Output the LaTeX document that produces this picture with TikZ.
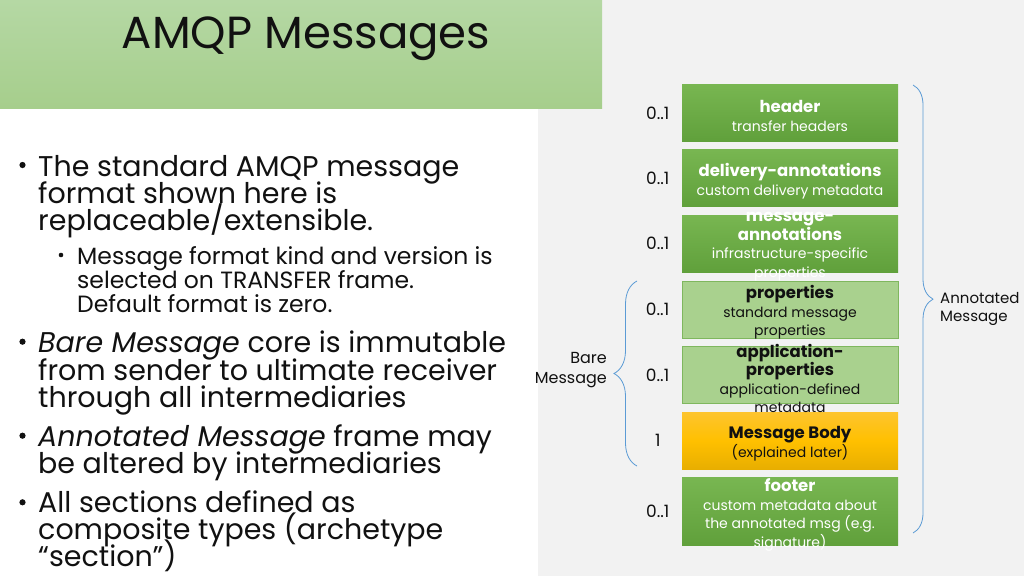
\documentclass[tikz,border=0pt]{standalone}
\usepackage{fontspec}
\setmainfont{Poppins}
\usetikzlibrary{positioning,decorations.pathreplacing}

\definecolor{panelgray}{HTML}{F2F2F2}
\definecolor{titletop}{HTML}{B5D8A4}
\definecolor{titlebot}{HTML}{A6CE8C}
\definecolor{darktop}{HTML}{78B651}
\definecolor{darkbot}{HTML}{60A03B}
\definecolor{lightfill}{HTML}{A9D18E}
\definecolor{lightedge}{HTML}{7FB75E}
\definecolor{goldtop}{HTML}{FDC42E}
\definecolor{goldmid}{HTML}{FFC000}
\definecolor{goldbot}{HTML}{E8AE00}
\definecolor{braceblue}{HTML}{5B9BD5}
\definecolor{ink}{HTML}{111111}

\newcommand{\tightlines}{\lineskiplimit=-30pt\relax}
\tikzset{
  secbox/.style={minimum width=216pt, minimum height=57pt, inner sep=0pt},
  darkbox/.style={secbox, top color=darktop, bottom color=darkbot},
  lightbox/.style={secbox, fill=lightfill, draw=lightedge, line width=0.8pt},
  goldbox/.style={secbox, top color=goldtop, bottom color=goldbot, middle color=goldmid},
  sectxt/.style={align=center, inner sep=0pt, yshift=-3pt, font=\fontsize{14}{18.5}\selectfont\tightlines},
  mult/.style={font=\fontsize{17}{18}\selectfont, text=ink},
  sidelbl/.style={text=ink, inner sep=0pt},
  bracelbl/.style={decorate, draw=braceblue, line width=0.8pt},
  bigtxt/.style={anchor=base west, align=left, inner sep=0pt, text=ink, font=\fontsize{28.5}{27.3}\selectfont\tightlines},
  smalltxt/.style={anchor=base west, align=left, inner sep=0pt, text=ink, font=\fontsize{23.5}{24.2}\selectfont\tightlines},
}
\newcommand{\sect}[1]{{\fontsize{16.5}{20}\selectfont\bfseries #1}}

\begin{document}
\begin{tikzpicture}[x=1pt,y=-1pt]
\useasboundingbox (0,0) rectangle (1024,576);
% backgrounds
\fill[white] (0,0) rectangle (1024,576);
\fill[panelgray] (538,0) rectangle (1024,576);
\shade[top color=titletop, bottom color=titlebot] (0,0) rectangle (602,108);
\node[text=ink, font=\fontsize{45}{45}\selectfont, anchor=base] (title) at (306,48) {AMQP Messages};

% bullets (anchored at the baseline of the last line)
\node[bigtxt] (b1) at (38,230.7) {The standard AMQP message\\format shown here is\\replaceable/extensible.};
\node[smalltxt] (b1a) at (77,312.7) {Message format kind and version is\\selected on TRANSFER frame.\\Default format is zero.};
\node[bigtxt] (b2) at (38,407.3) {\textit{Bare Message} core is immutable\\from sender to ultimate receiver\\through all intermediaries};
\node[bigtxt] (b3) at (38,473.3) {\textit{Annotated Message} frame may\\be altered by intermediaries};
\node[bigtxt] (b4) at (38,566.7) {All sections defined as\\composite types (archetype\\“section”)};
\foreach \y in {165,341.7,435.7,502.3}
  \fill[ink] (22.5,\y) circle (3.1);
\fill[ink] (61,255) circle (2.3);

% message sections
\node[darkbox] (hdr) at (790,113) {};
\node[darkbox, below=8pt of hdr] (dlv) {};
\node[darkbox, below=8pt of dlv] (mann) {};
\node[lightbox, below=8pt of mann] (prop) {};
\node[lightbox, below=8pt of prop] (app) {};
\node[goldbox, below=8pt of app] (body) {};
\node[darkbox, minimum height=68pt, below=8pt of body] (ftr) {};

\node[sectxt, text=white] at (hdr) {\sect{header}\\transfer headers};
\node[sectxt, text=white] at (dlv) {\sect{delivery-annotations}\\custom delivery metadata};
\node[sectxt, text=white] at (mann) {\sect{message-}\\\sect{annotations}\\infrastructure-specific\\properties};
\node[sectxt, text=ink] at (prop) {\sect{properties}\\standard message\\properties};
\node[sectxt, text=ink] at (app) {\sect{application-}\\\sect{properties}\\application-defined\\metadata};
\node[sectxt, text=ink] at (body) {\sect{Message Body}\\(explained later)};
\node[sectxt, text=white] at (ftr) {\sect{footer}\\custom metadata about\\the annotated msg (e.g.\\signature)};

% multiplicities
\foreach \s/\m in {hdr/0..1, dlv/0..1, mann/0..1, prop/0..1, app/0..1, body/1, ftr/0..1}
  \node[mult] at ([xshift=-24pt]\s.west) {\m};

% braces
\coordinate (baretop) at (637,281);
\coordinate (barebot) at (637,466);
\coordinate (anntop) at (913,85);
\coordinate (annbot) at (913,533);
\draw[bracelbl, decoration={brace, amplitude=23pt}] (barebot) -- (baretop);
\draw[bracelbl, decoration={brace, amplitude=20pt, aspect=0.478}] (anntop) -- (annbot);
\node[sidelbl, align=right, anchor=east, font=\fontsize{16}{20}\selectfont] (bare) at (607,370) {Bare\\Message};
\node[sidelbl, align=left, anchor=west, font=\fontsize{15}{18.5}\selectfont] (ann) at (940,309) {Annotated\\Message};
\end{tikzpicture}
\end{document}
